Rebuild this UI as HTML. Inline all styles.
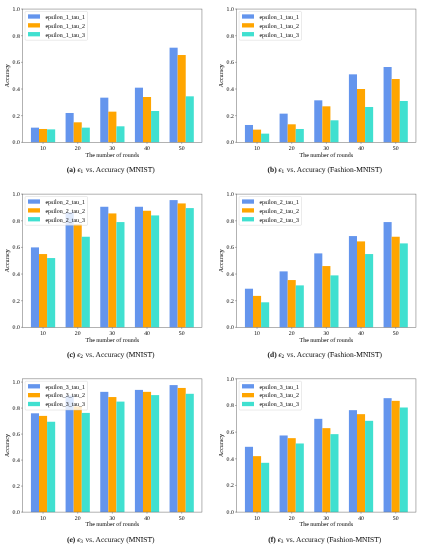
<!DOCTYPE html>
<html lang="en"><head><meta charset="utf-8"><title>Figure</title>
<style>
html,body{margin:0;padding:0;background:#fff;}
svg{display:block;}
.t{font-family:"Liberation Serif","DejaVu Serif",serif;fill:#222;text-rendering:geometricPrecision;stroke:#222;stroke-width:0.5px;}
</style></head><body>
<svg width="423" height="550" viewBox="0 0 423 550">
<rect width="423" height="550" fill="#fff"/>
<g id="chart-a">
<rect x="30.93" y="127.64" width="8.08" height="14.66" fill="#6495ED"/>
<rect x="39.01" y="128.98" width="8.08" height="13.32" fill="#FFA500"/>
<rect x="47.09" y="129.37" width="8.08" height="12.93" fill="#40E0D0"/>
<rect x="65.59" y="112.99" width="8.08" height="29.31" fill="#6495ED"/>
<rect x="73.67" y="122.31" width="8.08" height="19.99" fill="#FFA500"/>
<rect x="81.75" y="127.64" width="8.08" height="14.66" fill="#40E0D0"/>
<rect x="100.25" y="97.66" width="8.08" height="44.64" fill="#6495ED"/>
<rect x="108.33" y="111.65" width="8.08" height="30.65" fill="#FFA500"/>
<rect x="116.41" y="126.31" width="8.08" height="15.99" fill="#40E0D0"/>
<rect x="134.91" y="87.67" width="8.08" height="54.63" fill="#6495ED"/>
<rect x="142.99" y="97" width="8.08" height="45.31" fill="#FFA500"/>
<rect x="151.07" y="110.99" width="8.08" height="31.31" fill="#40E0D0"/>
<rect x="169.57" y="47.69" width="8.08" height="94.61" fill="#6495ED"/>
<rect x="177.65" y="55.02" width="8.08" height="87.28" fill="#FFA500"/>
<rect x="185.73" y="96.33" width="8.08" height="45.97" fill="#40E0D0"/>
<rect x="22.6" y="9.05" width="179.35" height="133.25" fill="none" stroke="#666" stroke-width="0.5"/>
<line x1="21" y1="142.3" x2="22.6" y2="142.3" stroke="#666" stroke-width="0.5"/>
<text class="t" transform="translate(19.8 144.21) scale(0.1)" font-size="58" text-anchor="end">0.0</text>
<line x1="21" y1="115.65" x2="22.6" y2="115.65" stroke="#666" stroke-width="0.5"/>
<text class="t" transform="translate(19.8 117.56) scale(0.1)" font-size="58" text-anchor="end">0.2</text>
<line x1="21" y1="89" x2="22.6" y2="89" stroke="#666" stroke-width="0.5"/>
<text class="t" transform="translate(19.8 90.91) scale(0.1)" font-size="58" text-anchor="end">0.4</text>
<line x1="21" y1="62.35" x2="22.6" y2="62.35" stroke="#666" stroke-width="0.5"/>
<text class="t" transform="translate(19.8 64.26) scale(0.1)" font-size="58" text-anchor="end">0.6</text>
<line x1="21" y1="35.7" x2="22.6" y2="35.7" stroke="#666" stroke-width="0.5"/>
<text class="t" transform="translate(19.8 37.61) scale(0.1)" font-size="58" text-anchor="end">0.8</text>
<line x1="21" y1="9.05" x2="22.6" y2="9.05" stroke="#666" stroke-width="0.5"/>
<text class="t" transform="translate(19.8 10.96) scale(0.1)" font-size="58" text-anchor="end">1.0</text>
<line x1="43.05" y1="142.3" x2="43.05" y2="143.9" stroke="#666" stroke-width="0.5"/>
<text class="t" transform="translate(43.05 150) scale(0.1)" font-size="58" text-anchor="middle">10</text>
<line x1="77.71" y1="142.3" x2="77.71" y2="143.9" stroke="#666" stroke-width="0.5"/>
<text class="t" transform="translate(77.71 150) scale(0.1)" font-size="58" text-anchor="middle">20</text>
<line x1="112.37" y1="142.3" x2="112.37" y2="143.9" stroke="#666" stroke-width="0.5"/>
<text class="t" transform="translate(112.37 150) scale(0.1)" font-size="58" text-anchor="middle">30</text>
<line x1="147.03" y1="142.3" x2="147.03" y2="143.9" stroke="#666" stroke-width="0.5"/>
<text class="t" transform="translate(147.03 150) scale(0.1)" font-size="58" text-anchor="middle">40</text>
<line x1="181.69" y1="142.3" x2="181.69" y2="143.9" stroke="#666" stroke-width="0.5"/>
<text class="t" transform="translate(181.69 150) scale(0.1)" font-size="58" text-anchor="middle">50</text>
<text class="t" transform="translate(112.27 156.5) scale(0.1)" font-size="60" text-anchor="middle">The number of rounds</text>
<text class="t" transform="translate(9.3 75.68) rotate(-90) scale(0.1)" font-size="60" text-anchor="middle">Accuracy</text>
<rect x="25.1" y="11.45" width="62.4" height="28.8" rx="1" fill="#fff" fill-opacity="0.8" stroke="#ccc" stroke-opacity="0.8" stroke-width="0.5"/>
<rect x="28" y="14.35" width="12" height="4.3" fill="#6495ED"/>
<text class="t" transform="translate(45.4 18.8) scale(0.1)" font-size="60" text-anchor="start">epsilon_1_tau_1</text>
<rect x="28" y="23.2" width="12" height="4.3" fill="#FFA500"/>
<text class="t" transform="translate(45.4 27.65) scale(0.1)" font-size="60" text-anchor="start">epsilon_1_tau_2</text>
<rect x="28" y="32.05" width="12" height="4.3" fill="#40E0D0"/>
<text class="t" transform="translate(45.4 36.5) scale(0.1)" font-size="60" text-anchor="start">epsilon_1_tau_3</text>
<text class="t" transform="translate(110.77 171.8) scale(0.1)" font-size="75" text-anchor="middle"><tspan font-weight="bold">(a)</tspan> <tspan font-style="italic">ϵ</tspan><tspan font-size="52.5" dy="13">1</tspan><tspan dy="-13" dx="8"> vs. Accuracy (MNIST)</tspan></text>
</g>
<g id="chart-b">
<rect x="244.93" y="124.98" width="8.08" height="17.32" fill="#6495ED"/>
<rect x="253.01" y="129.64" width="8.08" height="12.66" fill="#FFA500"/>
<rect x="261.09" y="133.64" width="8.08" height="8.66" fill="#40E0D0"/>
<rect x="279.59" y="113.65" width="8.08" height="28.65" fill="#6495ED"/>
<rect x="287.67" y="124.31" width="8.08" height="17.99" fill="#FFA500"/>
<rect x="295.75" y="128.98" width="8.08" height="13.32" fill="#40E0D0"/>
<rect x="314.25" y="100.33" width="8.08" height="41.97" fill="#6495ED"/>
<rect x="322.33" y="106.32" width="8.08" height="35.98" fill="#FFA500"/>
<rect x="330.41" y="120.31" width="8.08" height="21.99" fill="#40E0D0"/>
<rect x="348.91" y="74.34" width="8.08" height="67.96" fill="#6495ED"/>
<rect x="356.99" y="89" width="8.08" height="53.3" fill="#FFA500"/>
<rect x="365.07" y="106.99" width="8.08" height="35.31" fill="#40E0D0"/>
<rect x="383.57" y="67.01" width="8.08" height="75.29" fill="#6495ED"/>
<rect x="391.65" y="79.01" width="8.08" height="63.29" fill="#FFA500"/>
<rect x="399.73" y="100.99" width="8.08" height="41.31" fill="#40E0D0"/>
<rect x="236.6" y="9.05" width="179.35" height="133.25" fill="none" stroke="#666" stroke-width="0.5"/>
<line x1="235" y1="142.3" x2="236.6" y2="142.3" stroke="#666" stroke-width="0.5"/>
<text class="t" transform="translate(233.8 144.21) scale(0.1)" font-size="58" text-anchor="end">0.0</text>
<line x1="235" y1="115.65" x2="236.6" y2="115.65" stroke="#666" stroke-width="0.5"/>
<text class="t" transform="translate(233.8 117.56) scale(0.1)" font-size="58" text-anchor="end">0.2</text>
<line x1="235" y1="89" x2="236.6" y2="89" stroke="#666" stroke-width="0.5"/>
<text class="t" transform="translate(233.8 90.91) scale(0.1)" font-size="58" text-anchor="end">0.4</text>
<line x1="235" y1="62.35" x2="236.6" y2="62.35" stroke="#666" stroke-width="0.5"/>
<text class="t" transform="translate(233.8 64.26) scale(0.1)" font-size="58" text-anchor="end">0.6</text>
<line x1="235" y1="35.7" x2="236.6" y2="35.7" stroke="#666" stroke-width="0.5"/>
<text class="t" transform="translate(233.8 37.61) scale(0.1)" font-size="58" text-anchor="end">0.8</text>
<line x1="235" y1="9.05" x2="236.6" y2="9.05" stroke="#666" stroke-width="0.5"/>
<text class="t" transform="translate(233.8 10.96) scale(0.1)" font-size="58" text-anchor="end">1.0</text>
<line x1="257.05" y1="142.3" x2="257.05" y2="143.9" stroke="#666" stroke-width="0.5"/>
<text class="t" transform="translate(257.05 150) scale(0.1)" font-size="58" text-anchor="middle">10</text>
<line x1="291.71" y1="142.3" x2="291.71" y2="143.9" stroke="#666" stroke-width="0.5"/>
<text class="t" transform="translate(291.71 150) scale(0.1)" font-size="58" text-anchor="middle">20</text>
<line x1="326.37" y1="142.3" x2="326.37" y2="143.9" stroke="#666" stroke-width="0.5"/>
<text class="t" transform="translate(326.37 150) scale(0.1)" font-size="58" text-anchor="middle">30</text>
<line x1="361.03" y1="142.3" x2="361.03" y2="143.9" stroke="#666" stroke-width="0.5"/>
<text class="t" transform="translate(361.03 150) scale(0.1)" font-size="58" text-anchor="middle">40</text>
<line x1="395.69" y1="142.3" x2="395.69" y2="143.9" stroke="#666" stroke-width="0.5"/>
<text class="t" transform="translate(395.69 150) scale(0.1)" font-size="58" text-anchor="middle">50</text>
<text class="t" transform="translate(326.27 156.5) scale(0.1)" font-size="60" text-anchor="middle">The number of rounds</text>
<text class="t" transform="translate(223.3 75.68) rotate(-90) scale(0.1)" font-size="60" text-anchor="middle">Accuracy</text>
<rect x="239.1" y="11.45" width="62.4" height="28.8" rx="1" fill="#fff" fill-opacity="0.8" stroke="#ccc" stroke-opacity="0.8" stroke-width="0.5"/>
<rect x="242" y="14.35" width="12" height="4.3" fill="#6495ED"/>
<text class="t" transform="translate(259.4 18.8) scale(0.1)" font-size="60" text-anchor="start">epsilon_1_tau_1</text>
<rect x="242" y="23.2" width="12" height="4.3" fill="#FFA500"/>
<text class="t" transform="translate(259.4 27.65) scale(0.1)" font-size="60" text-anchor="start">epsilon_1_tau_2</text>
<rect x="242" y="32.05" width="12" height="4.3" fill="#40E0D0"/>
<text class="t" transform="translate(259.4 36.5) scale(0.1)" font-size="60" text-anchor="start">epsilon_1_tau_3</text>
<text class="t" transform="translate(324.77 171.8) scale(0.1)" font-size="75" text-anchor="middle"><tspan font-weight="bold">(b)</tspan> <tspan font-style="italic">ϵ</tspan><tspan font-size="52.5" dy="13">1</tspan><tspan dy="-13" dx="8"> vs. Accuracy (Fashion-MNIST)</tspan></text>
</g>
<g id="chart-c">
<rect x="30.93" y="247.4" width="8.08" height="79.95" fill="#6495ED"/>
<rect x="39.01" y="254.06" width="8.08" height="73.29" fill="#FFA500"/>
<rect x="47.09" y="258.06" width="8.08" height="69.29" fill="#40E0D0"/>
<rect x="65.59" y="212.36" width="8.08" height="114.99" fill="#6495ED"/>
<rect x="73.67" y="224.08" width="8.08" height="103.27" fill="#FFA500"/>
<rect x="81.75" y="236.74" width="8.08" height="90.61" fill="#40E0D0"/>
<rect x="100.25" y="206.76" width="8.08" height="120.59" fill="#6495ED"/>
<rect x="108.33" y="213.42" width="8.08" height="113.93" fill="#FFA500"/>
<rect x="116.41" y="222.08" width="8.08" height="105.27" fill="#40E0D0"/>
<rect x="134.91" y="206.76" width="8.08" height="120.59" fill="#6495ED"/>
<rect x="142.99" y="210.76" width="8.08" height="116.59" fill="#FFA500"/>
<rect x="151.07" y="215.42" width="8.08" height="111.93" fill="#40E0D0"/>
<rect x="169.57" y="200.1" width="8.08" height="127.25" fill="#6495ED"/>
<rect x="177.65" y="203.43" width="8.08" height="123.92" fill="#FFA500"/>
<rect x="185.73" y="208.09" width="8.08" height="119.26" fill="#40E0D0"/>
<rect x="22.6" y="194.1" width="179.35" height="133.25" fill="none" stroke="#666" stroke-width="0.5"/>
<line x1="21" y1="327.35" x2="22.6" y2="327.35" stroke="#666" stroke-width="0.5"/>
<text class="t" transform="translate(19.8 329.26) scale(0.1)" font-size="58" text-anchor="end">0.0</text>
<line x1="21" y1="300.7" x2="22.6" y2="300.7" stroke="#666" stroke-width="0.5"/>
<text class="t" transform="translate(19.8 302.61) scale(0.1)" font-size="58" text-anchor="end">0.2</text>
<line x1="21" y1="274.05" x2="22.6" y2="274.05" stroke="#666" stroke-width="0.5"/>
<text class="t" transform="translate(19.8 275.96) scale(0.1)" font-size="58" text-anchor="end">0.4</text>
<line x1="21" y1="247.4" x2="22.6" y2="247.4" stroke="#666" stroke-width="0.5"/>
<text class="t" transform="translate(19.8 249.31) scale(0.1)" font-size="58" text-anchor="end">0.6</text>
<line x1="21" y1="220.75" x2="22.6" y2="220.75" stroke="#666" stroke-width="0.5"/>
<text class="t" transform="translate(19.8 222.66) scale(0.1)" font-size="58" text-anchor="end">0.8</text>
<line x1="21" y1="194.1" x2="22.6" y2="194.1" stroke="#666" stroke-width="0.5"/>
<text class="t" transform="translate(19.8 196.01) scale(0.1)" font-size="58" text-anchor="end">1.0</text>
<line x1="43.05" y1="327.35" x2="43.05" y2="328.95" stroke="#666" stroke-width="0.5"/>
<text class="t" transform="translate(43.05 335.05) scale(0.1)" font-size="58" text-anchor="middle">10</text>
<line x1="77.71" y1="327.35" x2="77.71" y2="328.95" stroke="#666" stroke-width="0.5"/>
<text class="t" transform="translate(77.71 335.05) scale(0.1)" font-size="58" text-anchor="middle">20</text>
<line x1="112.37" y1="327.35" x2="112.37" y2="328.95" stroke="#666" stroke-width="0.5"/>
<text class="t" transform="translate(112.37 335.05) scale(0.1)" font-size="58" text-anchor="middle">30</text>
<line x1="147.03" y1="327.35" x2="147.03" y2="328.95" stroke="#666" stroke-width="0.5"/>
<text class="t" transform="translate(147.03 335.05) scale(0.1)" font-size="58" text-anchor="middle">40</text>
<line x1="181.69" y1="327.35" x2="181.69" y2="328.95" stroke="#666" stroke-width="0.5"/>
<text class="t" transform="translate(181.69 335.05) scale(0.1)" font-size="58" text-anchor="middle">50</text>
<text class="t" transform="translate(112.27 341.55) scale(0.1)" font-size="60" text-anchor="middle">The number of rounds</text>
<text class="t" transform="translate(9.3 260.73) rotate(-90) scale(0.1)" font-size="60" text-anchor="middle">Accuracy</text>
<rect x="25.1" y="196.5" width="62.4" height="28.8" rx="1" fill="#fff" fill-opacity="0.8" stroke="#ccc" stroke-opacity="0.8" stroke-width="0.5"/>
<rect x="28" y="199.4" width="12" height="4.3" fill="#6495ED"/>
<text class="t" transform="translate(45.4 203.85) scale(0.1)" font-size="60" text-anchor="start">epsilon_2_tau_1</text>
<rect x="28" y="208.25" width="12" height="4.3" fill="#FFA500"/>
<text class="t" transform="translate(45.4 212.7) scale(0.1)" font-size="60" text-anchor="start">epsilon_2_tau_2</text>
<rect x="28" y="217.1" width="12" height="4.3" fill="#40E0D0"/>
<text class="t" transform="translate(45.4 221.55) scale(0.1)" font-size="60" text-anchor="start">epsilon_2_tau_3</text>
<text class="t" transform="translate(110.77 356.85) scale(0.1)" font-size="75" text-anchor="middle"><tspan font-weight="bold">(c)</tspan> <tspan font-style="italic">ϵ</tspan><tspan font-size="52.5" dy="13">2</tspan><tspan dy="-13" dx="8"> vs. Accuracy (MNIST)</tspan></text>
</g>
<g id="chart-d">
<rect x="244.93" y="288.71" width="8.08" height="38.64" fill="#6495ED"/>
<rect x="253.01" y="295.9" width="8.08" height="31.45" fill="#FFA500"/>
<rect x="261.09" y="302.3" width="8.08" height="25.05" fill="#40E0D0"/>
<rect x="279.59" y="271.38" width="8.08" height="55.97" fill="#6495ED"/>
<rect x="287.67" y="280.05" width="8.08" height="47.3" fill="#FFA500"/>
<rect x="295.75" y="285.38" width="8.08" height="41.97" fill="#40E0D0"/>
<rect x="314.25" y="253.4" width="8.08" height="73.95" fill="#6495ED"/>
<rect x="322.33" y="266.06" width="8.08" height="61.3" fill="#FFA500"/>
<rect x="330.41" y="275.38" width="8.08" height="51.97" fill="#40E0D0"/>
<rect x="348.91" y="236.07" width="8.08" height="91.28" fill="#6495ED"/>
<rect x="356.99" y="241.4" width="8.08" height="85.95" fill="#FFA500"/>
<rect x="365.07" y="254.06" width="8.08" height="73.29" fill="#40E0D0"/>
<rect x="383.57" y="222.08" width="8.08" height="105.27" fill="#6495ED"/>
<rect x="391.65" y="236.74" width="8.08" height="90.61" fill="#FFA500"/>
<rect x="399.73" y="243.4" width="8.08" height="83.95" fill="#40E0D0"/>
<rect x="236.6" y="194.1" width="179.35" height="133.25" fill="none" stroke="#666" stroke-width="0.5"/>
<line x1="235" y1="327.35" x2="236.6" y2="327.35" stroke="#666" stroke-width="0.5"/>
<text class="t" transform="translate(233.8 329.26) scale(0.1)" font-size="58" text-anchor="end">0.0</text>
<line x1="235" y1="300.7" x2="236.6" y2="300.7" stroke="#666" stroke-width="0.5"/>
<text class="t" transform="translate(233.8 302.61) scale(0.1)" font-size="58" text-anchor="end">0.2</text>
<line x1="235" y1="274.05" x2="236.6" y2="274.05" stroke="#666" stroke-width="0.5"/>
<text class="t" transform="translate(233.8 275.96) scale(0.1)" font-size="58" text-anchor="end">0.4</text>
<line x1="235" y1="247.4" x2="236.6" y2="247.4" stroke="#666" stroke-width="0.5"/>
<text class="t" transform="translate(233.8 249.31) scale(0.1)" font-size="58" text-anchor="end">0.6</text>
<line x1="235" y1="220.75" x2="236.6" y2="220.75" stroke="#666" stroke-width="0.5"/>
<text class="t" transform="translate(233.8 222.66) scale(0.1)" font-size="58" text-anchor="end">0.8</text>
<line x1="235" y1="194.1" x2="236.6" y2="194.1" stroke="#666" stroke-width="0.5"/>
<text class="t" transform="translate(233.8 196.01) scale(0.1)" font-size="58" text-anchor="end">1.0</text>
<line x1="257.05" y1="327.35" x2="257.05" y2="328.95" stroke="#666" stroke-width="0.5"/>
<text class="t" transform="translate(257.05 335.05) scale(0.1)" font-size="58" text-anchor="middle">10</text>
<line x1="291.71" y1="327.35" x2="291.71" y2="328.95" stroke="#666" stroke-width="0.5"/>
<text class="t" transform="translate(291.71 335.05) scale(0.1)" font-size="58" text-anchor="middle">20</text>
<line x1="326.37" y1="327.35" x2="326.37" y2="328.95" stroke="#666" stroke-width="0.5"/>
<text class="t" transform="translate(326.37 335.05) scale(0.1)" font-size="58" text-anchor="middle">30</text>
<line x1="361.03" y1="327.35" x2="361.03" y2="328.95" stroke="#666" stroke-width="0.5"/>
<text class="t" transform="translate(361.03 335.05) scale(0.1)" font-size="58" text-anchor="middle">40</text>
<line x1="395.69" y1="327.35" x2="395.69" y2="328.95" stroke="#666" stroke-width="0.5"/>
<text class="t" transform="translate(395.69 335.05) scale(0.1)" font-size="58" text-anchor="middle">50</text>
<text class="t" transform="translate(326.27 341.55) scale(0.1)" font-size="60" text-anchor="middle">The number of rounds</text>
<text class="t" transform="translate(223.3 260.73) rotate(-90) scale(0.1)" font-size="60" text-anchor="middle">Accuracy</text>
<rect x="239.1" y="196.5" width="62.4" height="28.8" rx="1" fill="#fff" fill-opacity="0.8" stroke="#ccc" stroke-opacity="0.8" stroke-width="0.5"/>
<rect x="242" y="199.4" width="12" height="4.3" fill="#6495ED"/>
<text class="t" transform="translate(259.4 203.85) scale(0.1)" font-size="60" text-anchor="start">epsilon_2_tau_1</text>
<rect x="242" y="208.25" width="12" height="4.3" fill="#FFA500"/>
<text class="t" transform="translate(259.4 212.7) scale(0.1)" font-size="60" text-anchor="start">epsilon_2_tau_2</text>
<rect x="242" y="217.1" width="12" height="4.3" fill="#40E0D0"/>
<text class="t" transform="translate(259.4 221.55) scale(0.1)" font-size="60" text-anchor="start">epsilon_2_tau_3</text>
<text class="t" transform="translate(324.77 356.85) scale(0.1)" font-size="75" text-anchor="middle"><tspan font-weight="bold">(d)</tspan> <tspan font-style="italic">ϵ</tspan><tspan font-size="52.5" dy="13">2</tspan><tspan dy="-13" dx="8"> vs. Accuracy (Fashion-MNIST)</tspan></text>
</g>
<g id="chart-e">
<rect x="30.93" y="413.3" width="8.08" height="98.8" fill="#6495ED"/>
<rect x="39.01" y="415.9" width="8.08" height="96.2" fill="#FFA500"/>
<rect x="47.09" y="421.75" width="8.08" height="90.35" fill="#40E0D0"/>
<rect x="65.59" y="395.62" width="8.08" height="116.48" fill="#6495ED"/>
<rect x="73.67" y="406.41" width="8.08" height="105.69" fill="#FFA500"/>
<rect x="81.75" y="412.91" width="8.08" height="99.19" fill="#40E0D0"/>
<rect x="100.25" y="391.85" width="8.08" height="120.25" fill="#6495ED"/>
<rect x="108.33" y="397.05" width="8.08" height="115.05" fill="#FFA500"/>
<rect x="116.41" y="401.6" width="8.08" height="110.5" fill="#40E0D0"/>
<rect x="134.91" y="389.9" width="8.08" height="122.2" fill="#6495ED"/>
<rect x="142.99" y="391.85" width="8.08" height="120.25" fill="#FFA500"/>
<rect x="151.07" y="395.1" width="8.08" height="117" fill="#40E0D0"/>
<rect x="169.57" y="385.09" width="8.08" height="127.01" fill="#6495ED"/>
<rect x="177.65" y="387.95" width="8.08" height="124.15" fill="#FFA500"/>
<rect x="185.73" y="393.8" width="8.08" height="118.3" fill="#40E0D0"/>
<rect x="22.6" y="378.85" width="179.35" height="133.25" fill="none" stroke="#666" stroke-width="0.5"/>
<line x1="21" y1="512.1" x2="22.6" y2="512.1" stroke="#666" stroke-width="0.5"/>
<text class="t" transform="translate(19.8 514.01) scale(0.1)" font-size="58" text-anchor="end">0.0</text>
<line x1="21" y1="486.1" x2="22.6" y2="486.1" stroke="#666" stroke-width="0.5"/>
<text class="t" transform="translate(19.8 488.01) scale(0.1)" font-size="58" text-anchor="end">0.2</text>
<line x1="21" y1="460.1" x2="22.6" y2="460.1" stroke="#666" stroke-width="0.5"/>
<text class="t" transform="translate(19.8 462.01) scale(0.1)" font-size="58" text-anchor="end">0.4</text>
<line x1="21" y1="434.1" x2="22.6" y2="434.1" stroke="#666" stroke-width="0.5"/>
<text class="t" transform="translate(19.8 436.01) scale(0.1)" font-size="58" text-anchor="end">0.6</text>
<line x1="21" y1="408.1" x2="22.6" y2="408.1" stroke="#666" stroke-width="0.5"/>
<text class="t" transform="translate(19.8 410.01) scale(0.1)" font-size="58" text-anchor="end">0.8</text>
<line x1="21" y1="382.1" x2="22.6" y2="382.1" stroke="#666" stroke-width="0.5"/>
<text class="t" transform="translate(19.8 384.01) scale(0.1)" font-size="58" text-anchor="end">1.0</text>
<line x1="43.05" y1="512.1" x2="43.05" y2="513.7" stroke="#666" stroke-width="0.5"/>
<text class="t" transform="translate(43.05 519.8) scale(0.1)" font-size="58" text-anchor="middle">10</text>
<line x1="77.71" y1="512.1" x2="77.71" y2="513.7" stroke="#666" stroke-width="0.5"/>
<text class="t" transform="translate(77.71 519.8) scale(0.1)" font-size="58" text-anchor="middle">20</text>
<line x1="112.37" y1="512.1" x2="112.37" y2="513.7" stroke="#666" stroke-width="0.5"/>
<text class="t" transform="translate(112.37 519.8) scale(0.1)" font-size="58" text-anchor="middle">30</text>
<line x1="147.03" y1="512.1" x2="147.03" y2="513.7" stroke="#666" stroke-width="0.5"/>
<text class="t" transform="translate(147.03 519.8) scale(0.1)" font-size="58" text-anchor="middle">40</text>
<line x1="181.69" y1="512.1" x2="181.69" y2="513.7" stroke="#666" stroke-width="0.5"/>
<text class="t" transform="translate(181.69 519.8) scale(0.1)" font-size="58" text-anchor="middle">50</text>
<text class="t" transform="translate(112.27 526.3) scale(0.1)" font-size="60" text-anchor="middle">The number of rounds</text>
<text class="t" transform="translate(9.3 445.48) rotate(-90) scale(0.1)" font-size="60" text-anchor="middle">Accuracy</text>
<rect x="25.1" y="381.25" width="62.4" height="28.8" rx="1" fill="#fff" fill-opacity="0.8" stroke="#ccc" stroke-opacity="0.8" stroke-width="0.5"/>
<rect x="28" y="384.15" width="12" height="4.3" fill="#6495ED"/>
<text class="t" transform="translate(45.4 388.6) scale(0.1)" font-size="60" text-anchor="start">epsilon_3_tau_1</text>
<rect x="28" y="393" width="12" height="4.3" fill="#FFA500"/>
<text class="t" transform="translate(45.4 397.45) scale(0.1)" font-size="60" text-anchor="start">epsilon_3_tau_2</text>
<rect x="28" y="401.85" width="12" height="4.3" fill="#40E0D0"/>
<text class="t" transform="translate(45.4 406.3) scale(0.1)" font-size="60" text-anchor="start">epsilon_3_tau_3</text>
<text class="t" transform="translate(110.77 541.6) scale(0.1)" font-size="75" text-anchor="middle"><tspan font-weight="bold">(e)</tspan> <tspan font-style="italic">ϵ</tspan><tspan font-size="52.5" dy="13">3</tspan><tspan dy="-13" dx="8"> vs. Accuracy (MNIST)</tspan></text>
</g>
<g id="chart-f">
<rect x="244.93" y="446.81" width="8.08" height="65.29" fill="#6495ED"/>
<rect x="253.01" y="456.14" width="8.08" height="55.96" fill="#FFA500"/>
<rect x="261.09" y="462.8" width="8.08" height="49.3" fill="#40E0D0"/>
<rect x="279.59" y="435.48" width="8.08" height="76.62" fill="#6495ED"/>
<rect x="287.67" y="438.15" width="8.08" height="73.95" fill="#FFA500"/>
<rect x="295.75" y="443.48" width="8.08" height="68.62" fill="#40E0D0"/>
<rect x="314.25" y="418.83" width="8.08" height="93.27" fill="#6495ED"/>
<rect x="322.33" y="428.15" width="8.08" height="83.95" fill="#FFA500"/>
<rect x="330.41" y="434.15" width="8.08" height="77.95" fill="#40E0D0"/>
<rect x="348.91" y="410.16" width="8.08" height="101.94" fill="#6495ED"/>
<rect x="356.99" y="414.16" width="8.08" height="97.94" fill="#FFA500"/>
<rect x="365.07" y="420.82" width="8.08" height="91.28" fill="#40E0D0"/>
<rect x="383.57" y="398.17" width="8.08" height="113.93" fill="#6495ED"/>
<rect x="391.65" y="400.84" width="8.08" height="111.26" fill="#FFA500"/>
<rect x="399.73" y="407.5" width="8.08" height="104.6" fill="#40E0D0"/>
<rect x="236.6" y="378.85" width="179.35" height="133.25" fill="none" stroke="#666" stroke-width="0.5"/>
<line x1="235" y1="512.1" x2="236.6" y2="512.1" stroke="#666" stroke-width="0.5"/>
<text class="t" transform="translate(233.8 514.01) scale(0.1)" font-size="58" text-anchor="end">0.0</text>
<line x1="235" y1="485.45" x2="236.6" y2="485.45" stroke="#666" stroke-width="0.5"/>
<text class="t" transform="translate(233.8 487.36) scale(0.1)" font-size="58" text-anchor="end">0.2</text>
<line x1="235" y1="458.8" x2="236.6" y2="458.8" stroke="#666" stroke-width="0.5"/>
<text class="t" transform="translate(233.8 460.71) scale(0.1)" font-size="58" text-anchor="end">0.4</text>
<line x1="235" y1="432.15" x2="236.6" y2="432.15" stroke="#666" stroke-width="0.5"/>
<text class="t" transform="translate(233.8 434.06) scale(0.1)" font-size="58" text-anchor="end">0.6</text>
<line x1="235" y1="405.5" x2="236.6" y2="405.5" stroke="#666" stroke-width="0.5"/>
<text class="t" transform="translate(233.8 407.41) scale(0.1)" font-size="58" text-anchor="end">0.8</text>
<line x1="235" y1="378.85" x2="236.6" y2="378.85" stroke="#666" stroke-width="0.5"/>
<text class="t" transform="translate(233.8 380.76) scale(0.1)" font-size="58" text-anchor="end">1.0</text>
<line x1="257.05" y1="512.1" x2="257.05" y2="513.7" stroke="#666" stroke-width="0.5"/>
<text class="t" transform="translate(257.05 519.8) scale(0.1)" font-size="58" text-anchor="middle">10</text>
<line x1="291.71" y1="512.1" x2="291.71" y2="513.7" stroke="#666" stroke-width="0.5"/>
<text class="t" transform="translate(291.71 519.8) scale(0.1)" font-size="58" text-anchor="middle">20</text>
<line x1="326.37" y1="512.1" x2="326.37" y2="513.7" stroke="#666" stroke-width="0.5"/>
<text class="t" transform="translate(326.37 519.8) scale(0.1)" font-size="58" text-anchor="middle">30</text>
<line x1="361.03" y1="512.1" x2="361.03" y2="513.7" stroke="#666" stroke-width="0.5"/>
<text class="t" transform="translate(361.03 519.8) scale(0.1)" font-size="58" text-anchor="middle">40</text>
<line x1="395.69" y1="512.1" x2="395.69" y2="513.7" stroke="#666" stroke-width="0.5"/>
<text class="t" transform="translate(395.69 519.8) scale(0.1)" font-size="58" text-anchor="middle">50</text>
<text class="t" transform="translate(326.27 526.3) scale(0.1)" font-size="60" text-anchor="middle">The number of rounds</text>
<text class="t" transform="translate(223.3 445.48) rotate(-90) scale(0.1)" font-size="60" text-anchor="middle">Accuracy</text>
<rect x="239.1" y="381.25" width="62.4" height="28.8" rx="1" fill="#fff" fill-opacity="0.8" stroke="#ccc" stroke-opacity="0.8" stroke-width="0.5"/>
<rect x="242" y="384.15" width="12" height="4.3" fill="#6495ED"/>
<text class="t" transform="translate(259.4 388.6) scale(0.1)" font-size="60" text-anchor="start">epsilon_3_tau_1</text>
<rect x="242" y="393" width="12" height="4.3" fill="#FFA500"/>
<text class="t" transform="translate(259.4 397.45) scale(0.1)" font-size="60" text-anchor="start">epsilon_3_tau_2</text>
<rect x="242" y="401.85" width="12" height="4.3" fill="#40E0D0"/>
<text class="t" transform="translate(259.4 406.3) scale(0.1)" font-size="60" text-anchor="start">epsilon_3_tau_3</text>
<text class="t" transform="translate(324.77 541.6) scale(0.1)" font-size="75" text-anchor="middle"><tspan font-weight="bold">(f)</tspan> <tspan font-style="italic">ϵ</tspan><tspan font-size="52.5" dy="13">3</tspan><tspan dy="-13" dx="8"> vs. Accuracy (Fashion-MNIST)</tspan></text>
</g>
</svg>
</body></html>
